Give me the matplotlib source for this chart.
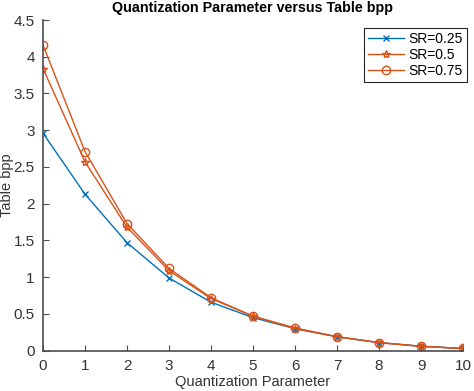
import numpy as np
import matplotlib.pyplot as plt

plt.rcParams['font.family'] = ['Liberation Sans', 'DejaVu Sans']

qp = [0, 1, 2, 3, 4, 5, 6, 7, 8, 9, 10]
sr025 = [2.96, 2.13, 1.47, 0.99, 0.66, 0.45, 0.30, 0.19, 0.11, 0.06, 0.03]
sr05 = [3.84, 2.57, 1.68, 1.09, 0.71, 0.47, 0.30, 0.19, 0.11, 0.06, 0.03]
sr075 = [4.16, 2.71, 1.73, 1.12, 0.72, 0.47, 0.31, 0.19, 0.11, 0.06, 0.03]

blue = '#0072BD'
orange = '#D95319'
grey = '#4d4d4d'

fig = plt.figure(figsize=(4.74, 3.91), dpi=100)
ax = fig.add_axes([43/474, 40.3/391, 420/474, 330.7/391])

ax.plot(qp, sr025, color=blue, lw=1, marker='x', ms=5, mew=1, label='SR=0.25')
ax.plot(qp, sr05, color=orange, lw=1, marker='*', ms=6, mew=1,
        mfc='none', label='SR=0.5')
ax.plot(qp, sr075, color=orange, lw=1, marker='o', ms=6, mew=1,
        mfc='none', label='SR=0.75')

ax.set_xlim(0, 10)
ax.set_ylim(0, 4.5)
ax.set_xticks(range(0, 11))
ax.set_yticks(np.arange(0, 4.51, 0.5))
ax.set_yticklabels(['0', '0.5', '1', '1.5', '2', '2.5', '3', '3.5', '4', '4.5'])

for s in ['top', 'right']:
    ax.spines[s].set_visible(False)
for s in ['left', 'bottom']:
    ax.spines[s].set_color(grey)
    ax.spines[s].set_linewidth(1.2)
ax.tick_params(direction='in', length=4, colors=grey, labelsize=11,
               labelcolor='#333333', pad=6)

ax.set_xlabel('Quantization Parameter', fontsize=10.5, color='#333333')
ax.xaxis.set_label_coords(0.5, -0.074)
ax.set_ylabel('Table bpp', fontsize=10.5, color='#333333')
ax.yaxis.set_label_coords(-0.068, 0.5)
ax.set_title('Quantization Parameter versus Table bpp', fontsize=10.3,
             fontweight='bold', pad=6)

leg = ax.legend(loc='upper right', bbox_to_anchor=(1.01, 0.976), fontsize=10,
                handlelength=2.6, borderpad=0.3, labelspacing=0.15,
                handletextpad=0.3, borderaxespad=0, fancybox=False, framealpha=1)
leg.get_frame().set_edgecolor('#262626')
leg.get_frame().set_linewidth(0.8)

fig.savefig('out.png', dpi=100)
